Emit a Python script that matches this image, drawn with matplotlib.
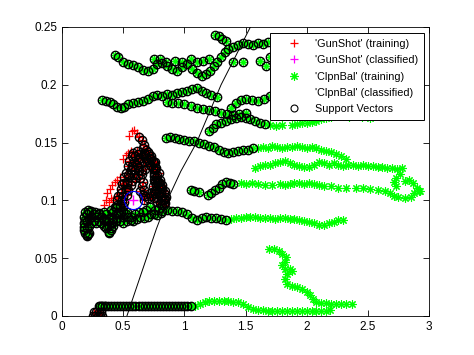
import matplotlib
matplotlib.use("Agg")
import matplotlib.pyplot as plt
from matplotlib.lines import Line2D

plt.rcParams['font.family'] = ['Liberation Sans', 'DejaVu Sans']

# 'GunShot' training points that are not support vectors (visible red +)
gun_x = [0.34, 0.36, 0.38, 0.40, 0.42, 0.44, 0.37, 0.39, 0.41, 0.43, 0.45, 0.47,
         0.50, 0.52, 0.54, 0.56, 0.55, 0.57, 0.59, 0.61, 0.63]
gun_y = [0.096, 0.100, 0.099, 0.102, 0.100, 0.103, 0.106, 0.110, 0.113, 0.116, 0.118, 0.120,
         0.136, 0.139, 0.141, 0.143, 0.156, 0.160, 0.161, 0.158, 0.156]

# 'GunShot' training points that are support vectors (the dark blob)
gun_sv_x = [
    # trail from the top
    0.63, 0.65, 0.67, 0.69, 0.71, 0.73, 0.75, 0.77, 0.79,
    # left lobe
    0.42, 0.45, 0.48, 0.51, 0.54, 0.57,
    0.46, 0.49, 0.52, 0.55, 0.58, 0.60,
    0.50, 0.53, 0.56, 0.59, 0.61,
    0.44, 0.47, 0.50, 0.53, 0.56,
    0.43, 0.46, 0.49, 0.52, 0.55, 0.58, 0.47, 0.50, 0.53, 0.56, 0.59,
    0.51, 0.54, 0.57, 0.60, 0.62, 0.45, 0.48, 0.51, 0.54, 0.57,
    # middle column
    0.62, 0.63, 0.63, 0.64, 0.65, 0.66, 0.67, 0.68,
    0.61, 0.64, 0.62, 0.65, 0.66, 0.67, 0.64, 0.62, 0.60,
    # right lobe
    0.66, 0.68, 0.70, 0.72, 0.74, 0.76, 0.78, 0.80, 0.82, 0.84, 0.85, 0.84, 0.82, 0.80,
    0.78, 0.76, 0.77, 0.79, 0.81, 0.74, 0.72, 0.70, 0.75, 0.76, 0.73, 0.70, 0.68, 0.67,
    0.80, 0.82, 0.83, 0.78, 0.65, 0.66,
    0.67, 0.69, 0.71, 0.73, 0.75, 0.77, 0.79, 0.81, 0.83, 0.84, 0.83, 0.81, 0.79, 0.77,
    0.75, 0.73, 0.75, 0.78, 0.76, 0.74, 0.72, 0.78, 0.80, 0.82, 0.76, 0.75,
    # bottom left corner
    0.25, 0.27, 0.29, 0.31, 0.33, 0.26, 0.28, 0.30, 0.32,
]
gun_sv_y = [
    0.155, 0.152, 0.148, 0.144, 0.140, 0.136, 0.132, 0.128, 0.124,
    0.090, 0.100, 0.110, 0.120, 0.130, 0.138,
    0.090, 0.100, 0.110, 0.120, 0.130, 0.138,
    0.095, 0.105, 0.113, 0.122, 0.131,
    0.093, 0.096, 0.104, 0.114, 0.126,
    0.094, 0.104, 0.114, 0.124, 0.134, 0.141, 0.094, 0.104, 0.116, 0.126, 0.134,
    0.099, 0.109, 0.117, 0.126, 0.135, 0.096, 0.106, 0.115, 0.122, 0.130,
    0.140, 0.133, 0.126, 0.119, 0.112, 0.105, 0.100, 0.104,
    0.143, 0.137, 0.129, 0.123, 0.116, 0.109, 0.108, 0.122, 0.119,
    0.145, 0.140, 0.135, 0.131, 0.128, 0.126, 0.122, 0.118, 0.113, 0.108, 0.103, 0.098, 0.096, 0.098,
    0.103, 0.106, 0.113, 0.110, 0.106, 0.112, 0.106, 0.102, 0.118, 0.133, 0.138, 0.142, 0.127, 0.133,
    0.112, 0.103, 0.100, 0.116, 0.125, 0.139,
    0.141, 0.137, 0.133, 0.130, 0.124, 0.120, 0.116, 0.111, 0.106, 0.101, 0.096, 0.100, 0.106, 0.109,
    0.108, 0.104, 0.102, 0.099, 0.128, 0.134, 0.137, 0.118, 0.114, 0.110, 0.116, 0.121,
    0.000, 0.000, 0.000, 0.000, 0.000, 0.003, 0.003, 0.003, 0.003,
]

# 'GunShot' classified sample
cls_x = [0.58]
cls_y = [0.100]

# 'ClpnBal' training points that are support vectors
clp_sv_x = [
    # top track
    0.43, 0.46, 0.50, 0.54, 0.58, 0.62, 0.66, 0.70, 0.74, 0.78, 0.82, 0.86, 0.90, 0.94, 0.98,
    1.02, 1.06, 1.10, 1.14, 1.18, 1.21, 1.24, 1.27, 1.30, 1.33, 1.36, 1.40, 1.44, 1.48, 1.52,
    1.56, 1.60, 1.64, 1.68, 1.25, 1.28, 1.31, 1.34, 1.40, 1.48, 1.62, 1.67, 1.70,
    0.75, 0.80, 0.85, 0.92, 0.98, 1.05, 1.10, 1.15, 1.20,
    # second track
    0.33, 0.36, 0.39, 0.42, 0.45, 0.48, 0.51, 0.54, 0.58, 0.62, 0.66, 0.70, 0.74, 0.78, 0.82,
    0.86, 0.90, 0.94, 0.98, 1.02, 1.06, 1.10, 1.14, 1.18, 1.22, 1.27,
    0.86, 0.90, 0.95, 1.00, 1.05, 1.10, 1.15, 1.20, 1.25, 1.30, 1.35, 1.40, 1.45, 1.50,
    1.38, 1.42, 1.46, 1.50, 1.55, 1.60, 1.65, 1.70,
    # third track
    1.20, 1.23, 1.26, 1.30, 1.34, 1.38, 1.42, 1.46, 1.50, 1.54, 1.58, 1.62, 1.66,
    # fourth track
    0.85, 0.88, 0.92, 0.96, 1.00, 1.04, 1.08, 1.12, 1.16, 1.20, 1.24, 1.28, 1.32, 1.36, 1.40,
    1.44, 1.48, 1.52, 1.56,
    # fifth track
    1.05, 1.08, 1.12, 1.19, 1.22, 1.25, 1.28, 1.31, 1.34, 1.37, 1.40,
    # lower band
    0.18, 0.19, 0.20, 0.21, 0.19, 0.19, 0.21, 0.24, 0.27, 0.30, 0.33, 0.36, 0.37, 0.38, 0.40,
    0.42, 0.44, 0.46, 0.48, 0.50, 0.52, 0.54, 0.56, 0.58, 0.61, 0.64, 0.67, 0.70, 0.73, 0.76,
    0.79, 0.82, 0.86, 0.90, 0.94, 0.98, 1.02, 1.06, 1.10, 1.14, 1.18, 1.22, 1.26, 1.30, 1.34,
    0.18, 0.18, 0.18, 0.20, 0.20, 0.20, 0.20, 0.22, 0.22, 0.22, 0.22, 0.24, 0.24, 0.26, 0.26,
    0.28, 0.28, 0.30, 0.30, 0.32, 0.32, 0.34, 0.34, 0.34, 0.36, 0.36, 0.36, 0.38, 0.38, 0.38,
    0.40, 0.40, 0.40, 0.40, 0.42, 0.42, 0.44, 0.44, 0.44, 0.47, 0.47, 0.50, 0.50, 0.53, 0.53,
    0.56, 0.60, 0.63, 0.66, 0.69, 0.72, 0.75, 0.78, 0.81,
    # bottom row
    0.30, 0.325, 0.35, 0.375, 0.40, 0.425, 0.45, 0.475, 0.50, 0.525, 0.55, 0.575, 0.60, 0.625,
    0.65, 0.675, 0.70, 0.725, 0.75, 0.775, 0.80, 0.825, 0.85, 0.875, 0.90, 0.925, 0.95, 0.975,
    1.00, 1.025, 1.05, 0.31, 0.33, 0.35,
]
clp_sv_y = [
    0.226, 0.224, 0.220, 0.218, 0.217, 0.215, 0.213, 0.212, 0.214, 0.218, 0.219, 0.216, 0.214, 0.212, 0.215,
    0.218, 0.214, 0.210, 0.208, 0.209, 0.212, 0.216, 0.220, 0.224, 0.228, 0.231, 0.233, 0.234, 0.236, 0.235,
    0.234, 0.236, 0.235, 0.237, 0.243, 0.242, 0.240, 0.238, 0.220, 0.220, 0.221, 0.216, 0.224,
    0.222, 0.222, 0.220, 0.221, 0.220, 0.222, 0.220, 0.221, 0.222,
    0.187, 0.186, 0.185, 0.183, 0.181, 0.180, 0.181, 0.183, 0.184, 0.185, 0.186, 0.188, 0.190, 0.191, 0.190,
    0.192, 0.191, 0.193, 0.194, 0.195, 0.196, 0.197, 0.195, 0.193, 0.191, 0.189,
    0.185, 0.184, 0.184, 0.183, 0.182, 0.180, 0.179, 0.178, 0.177, 0.176, 0.175, 0.174, 0.175, 0.176,
    0.180, 0.184, 0.187, 0.188, 0.187, 0.186, 0.188, 0.190,
    0.160, 0.163, 0.166, 0.167, 0.169, 0.170, 0.171, 0.172, 0.171, 0.170, 0.169, 0.167, 0.166,
    0.154, 0.155, 0.154, 0.153, 0.152, 0.151, 0.151, 0.150, 0.149, 0.147, 0.146, 0.144, 0.142, 0.141, 0.142,
    0.143, 0.144, 0.144, 0.145,
    0.109, 0.108, 0.107, 0.105, 0.106, 0.109, 0.111, 0.114, 0.116, 0.115, 0.114,
    0.077, 0.072, 0.069, 0.071, 0.083, 0.090, 0.092, 0.091, 0.090, 0.089, 0.086, 0.083, 0.078, 0.073, 0.076,
    0.081, 0.085, 0.088, 0.090, 0.091, 0.088, 0.086, 0.083, 0.082, 0.084, 0.086, 0.085, 0.086, 0.088, 0.092,
    0.093, 0.091, 0.092, 0.091, 0.091, 0.090, 0.088, 0.085, 0.083, 0.085, 0.086, 0.085, 0.085, 0.084, 0.083,
    0.074, 0.080, 0.086, 0.070, 0.076, 0.082, 0.088, 0.072, 0.078, 0.084, 0.090, 0.080, 0.086, 0.082, 0.088,
    0.080, 0.086, 0.082, 0.088, 0.080, 0.086, 0.078, 0.084, 0.090, 0.076, 0.082, 0.088, 0.072, 0.078, 0.084,
    0.074, 0.080, 0.086, 0.092, 0.078, 0.084, 0.082, 0.088, 0.094, 0.082, 0.088, 0.080, 0.086, 0.082, 0.090,
    0.086, 0.088, 0.090, 0.090, 0.092, 0.094, 0.088, 0.087, 0.089,
    0.009, 0.009, 0.009, 0.009, 0.009, 0.009, 0.009, 0.009, 0.009, 0.009, 0.009, 0.009, 0.009, 0.009,
    0.009, 0.009, 0.009, 0.009, 0.009, 0.009, 0.009, 0.009, 0.009, 0.009, 0.009, 0.009, 0.009, 0.009,
    0.009, 0.009, 0.009, 0.009, 0.009, 0.009,
]

# 'ClpnBal' training points that are not support vectors
clp_x = [
    1.70, 1.75, 1.80, 1.88, 1.92, 1.96, 2.00, 2.04, 2.08, 2.12, 2.16, 2.20, 2.24, 2.30, 2.35, 2.45, 2.52,
    1.60, 1.64, 1.68, 1.72, 1.76, 1.80, 1.84, 1.88, 1.92, 1.96, 2.00, 2.04, 2.08, 2.12, 2.16, 2.20, 2.24,
    2.28, 2.32,
    1.58, 1.62, 1.66, 1.70, 1.74, 1.78, 1.82, 1.86, 1.90, 1.94, 1.98, 2.02, 2.06, 2.10, 2.14, 2.18, 2.22,
    2.26, 2.30, 2.34, 2.38, 2.42, 2.46, 2.50, 2.54, 2.58, 2.62, 2.66, 2.70, 2.74, 2.78, 2.76, 2.73, 2.71,
    2.73, 2.80, 2.84, 2.87, 2.90, 2.92,
    1.46, 1.50, 1.55, 1.60, 1.66, 1.72, 1.78, 1.82, 1.86, 1.90, 1.94, 1.98, 2.02, 2.06, 2.10, 2.14, 2.20,
    2.26, 2.32, 2.40, 2.46, 2.52, 2.58, 2.64, 2.68, 2.71, 2.75, 2.80, 2.85, 2.88, 2.93,
    1.38, 1.42, 1.46, 1.50, 1.54, 1.58, 1.62, 1.66, 1.70, 1.74, 1.78, 1.82, 1.86, 1.90, 1.94, 1.98, 2.02,
    2.06, 2.10, 2.14, 2.18, 2.22, 2.26, 2.30,
    1.69, 1.73, 1.77, 1.80, 1.83, 1.82, 1.80, 1.82, 1.86, 1.88, 1.84, 1.82, 1.84, 1.88, 1.92, 1.96, 2.00,
    2.03, 2.05, 2.08, 2.12, 2.16, 2.20, 2.24, 2.28, 2.32, 2.37,
    1.05, 1.09, 1.13, 1.17, 1.20, 1.24, 1.28, 1.32, 1.36, 1.40, 1.44, 1.48, 1.52, 1.56, 1.60, 1.64, 1.68,
    1.72, 1.76, 1.80, 1.84, 1.88, 1.92, 1.96, 2.00, 2.04, 2.08, 2.12, 2.16, 2.19,
]
clp_y = [
    0.165, 0.164, 0.165, 0.165, 0.166, 0.167, 0.167, 0.168, 0.169, 0.170, 0.171, 0.172, 0.173, 0.173, 0.172, 0.172, 0.171,
    0.145, 0.146, 0.145, 0.147, 0.146, 0.145, 0.146, 0.146, 0.147, 0.146, 0.145, 0.146, 0.145, 0.144, 0.143, 0.142, 0.140,
    0.138, 0.136,
    0.128, 0.130, 0.131, 0.131, 0.132, 0.133, 0.134, 0.132, 0.131, 0.130, 0.129, 0.129, 0.131, 0.133, 0.132, 0.131, 0.132,
    0.131, 0.130, 0.131, 0.131, 0.130, 0.131, 0.130, 0.130, 0.129, 0.129, 0.128, 0.128, 0.127, 0.128, 0.123, 0.119, 0.116,
    0.112, 0.117, 0.118, 0.115, 0.111, 0.108,
    0.115, 0.114, 0.115, 0.114, 0.113, 0.113, 0.114, 0.113, 0.114, 0.115, 0.115, 0.114, 0.115, 0.114, 0.113, 0.112, 0.112,
    0.111, 0.111, 0.111, 0.111, 0.110, 0.109, 0.108, 0.106, 0.104, 0.103, 0.102, 0.103, 0.106, 0.108,
    0.084, 0.085, 0.085, 0.086, 0.086, 0.086, 0.085, 0.085, 0.085, 0.084, 0.085, 0.085, 0.084, 0.084, 0.083, 0.082, 0.081,
    0.080, 0.079, 0.079, 0.080, 0.081, 0.083, 0.083,
    0.058, 0.058, 0.056, 0.054, 0.051, 0.047, 0.044, 0.041, 0.041, 0.039, 0.036, 0.032, 0.028, 0.026, 0.025, 0.023, 0.021,
    0.018, 0.015, 0.012, 0.011, 0.011, 0.010, 0.010, 0.010, 0.010, 0.010,
    0.009, 0.009, 0.010, 0.012, 0.013, 0.013, 0.013, 0.013, 0.013, 0.012, 0.012, 0.010, 0.008, 0.006, 0.005, 0.005, 0.004,
    0.004, 0.004, 0.004, 0.004, 0.004, 0.004, 0.004, 0.004, 0.004, 0.004, 0.004, 0.004, 0.005,
]

# separating curve
bound_x = [0.53, 0.61, 0.69, 0.77, 0.86, 0.97, 1.10, 1.20, 1.30, 1.42, 1.54]
bound_y = [0.000, 0.025, 0.050, 0.075, 0.100, 0.125, 0.150, 0.175, 0.200, 0.225, 0.250]

legend_labels = ["'GunShot' (training)", "'GunShot' (classified)", "'ClpnBal' (training)",
                 "'ClpnBal' (classified)", "Support Vectors"]

fig = plt.figure(figsize=(4.74, 3.55), dpi=100)
ax = fig.add_axes([0.131, 0.110, 0.774, 0.814])

star = (8, 2, 0)
green = '#00ff00'

ax.plot(gun_x + gun_sv_x, gun_y + gun_sv_y, '+', color='red', ms=6, mew=0.9, ls='none')
ax.plot(clp_x + clp_sv_x, clp_y + clp_sv_y, marker=star, color=green, ms=6, mew=0.8, ls='none')
ax.plot(gun_sv_x + clp_sv_x, gun_sv_y + clp_sv_y, 'o', mfc='none', mec='black', ms=6, mew=1.0, ls='none')
ax.plot(bound_x, bound_y, '-', color='black', lw=0.7)
ax.plot(cls_x, cls_y, '+', color='magenta', ms=7, mew=1.0, ls='none')
ax.plot(cls_x, cls_y, 'o', mfc='none', mec='blue', ms=13, mew=0.8, ls='none')

ax.set_xlim(0, 3)
ax.set_ylim(0, 0.25)
ax.set_xticks([0, 0.5, 1, 1.5, 2, 2.5, 3])
ax.set_xticklabels(['0', '0.5', '1', '1.5', '2', '2.5', '3'])
ax.set_yticks([0, 0.05, 0.1, 0.15, 0.2, 0.25])
ax.set_yticklabels(['0', '0.05', '0.1', '0.15', '0.2', '0.25'])
ax.tick_params(direction='in', top=True, right=True, length=4, width=0.6, labelsize=8.5)
for s in ax.spines.values():
    s.set_linewidth(0.6)

handles = [
    Line2D([], [], marker='+', color='red', ls='none', ms=6, mew=0.9),
    Line2D([], [], marker='+', color='magenta', ls='none', ms=6, mew=0.9),
    Line2D([], [], marker=star, color=green, ls='none', ms=6, mew=0.8),
    Line2D([], [], marker='none', ls='none'),
    Line2D([], [], marker='o', mfc='none', mec='black', ls='none', ms=5, mew=0.8),
]
leg = ax.legend(handles, legend_labels, loc='upper right', bbox_to_anchor=(0.986, 0.979),
                borderaxespad=0, fontsize=7.8, fancybox=False, framealpha=1,
                edgecolor='black', handlelength=3.2, handletextpad=0.36,
                labelspacing=0.58, borderpad=0.55)
leg.get_frame().set_linewidth(0.7)

fig.savefig('out.png', dpi=100)
